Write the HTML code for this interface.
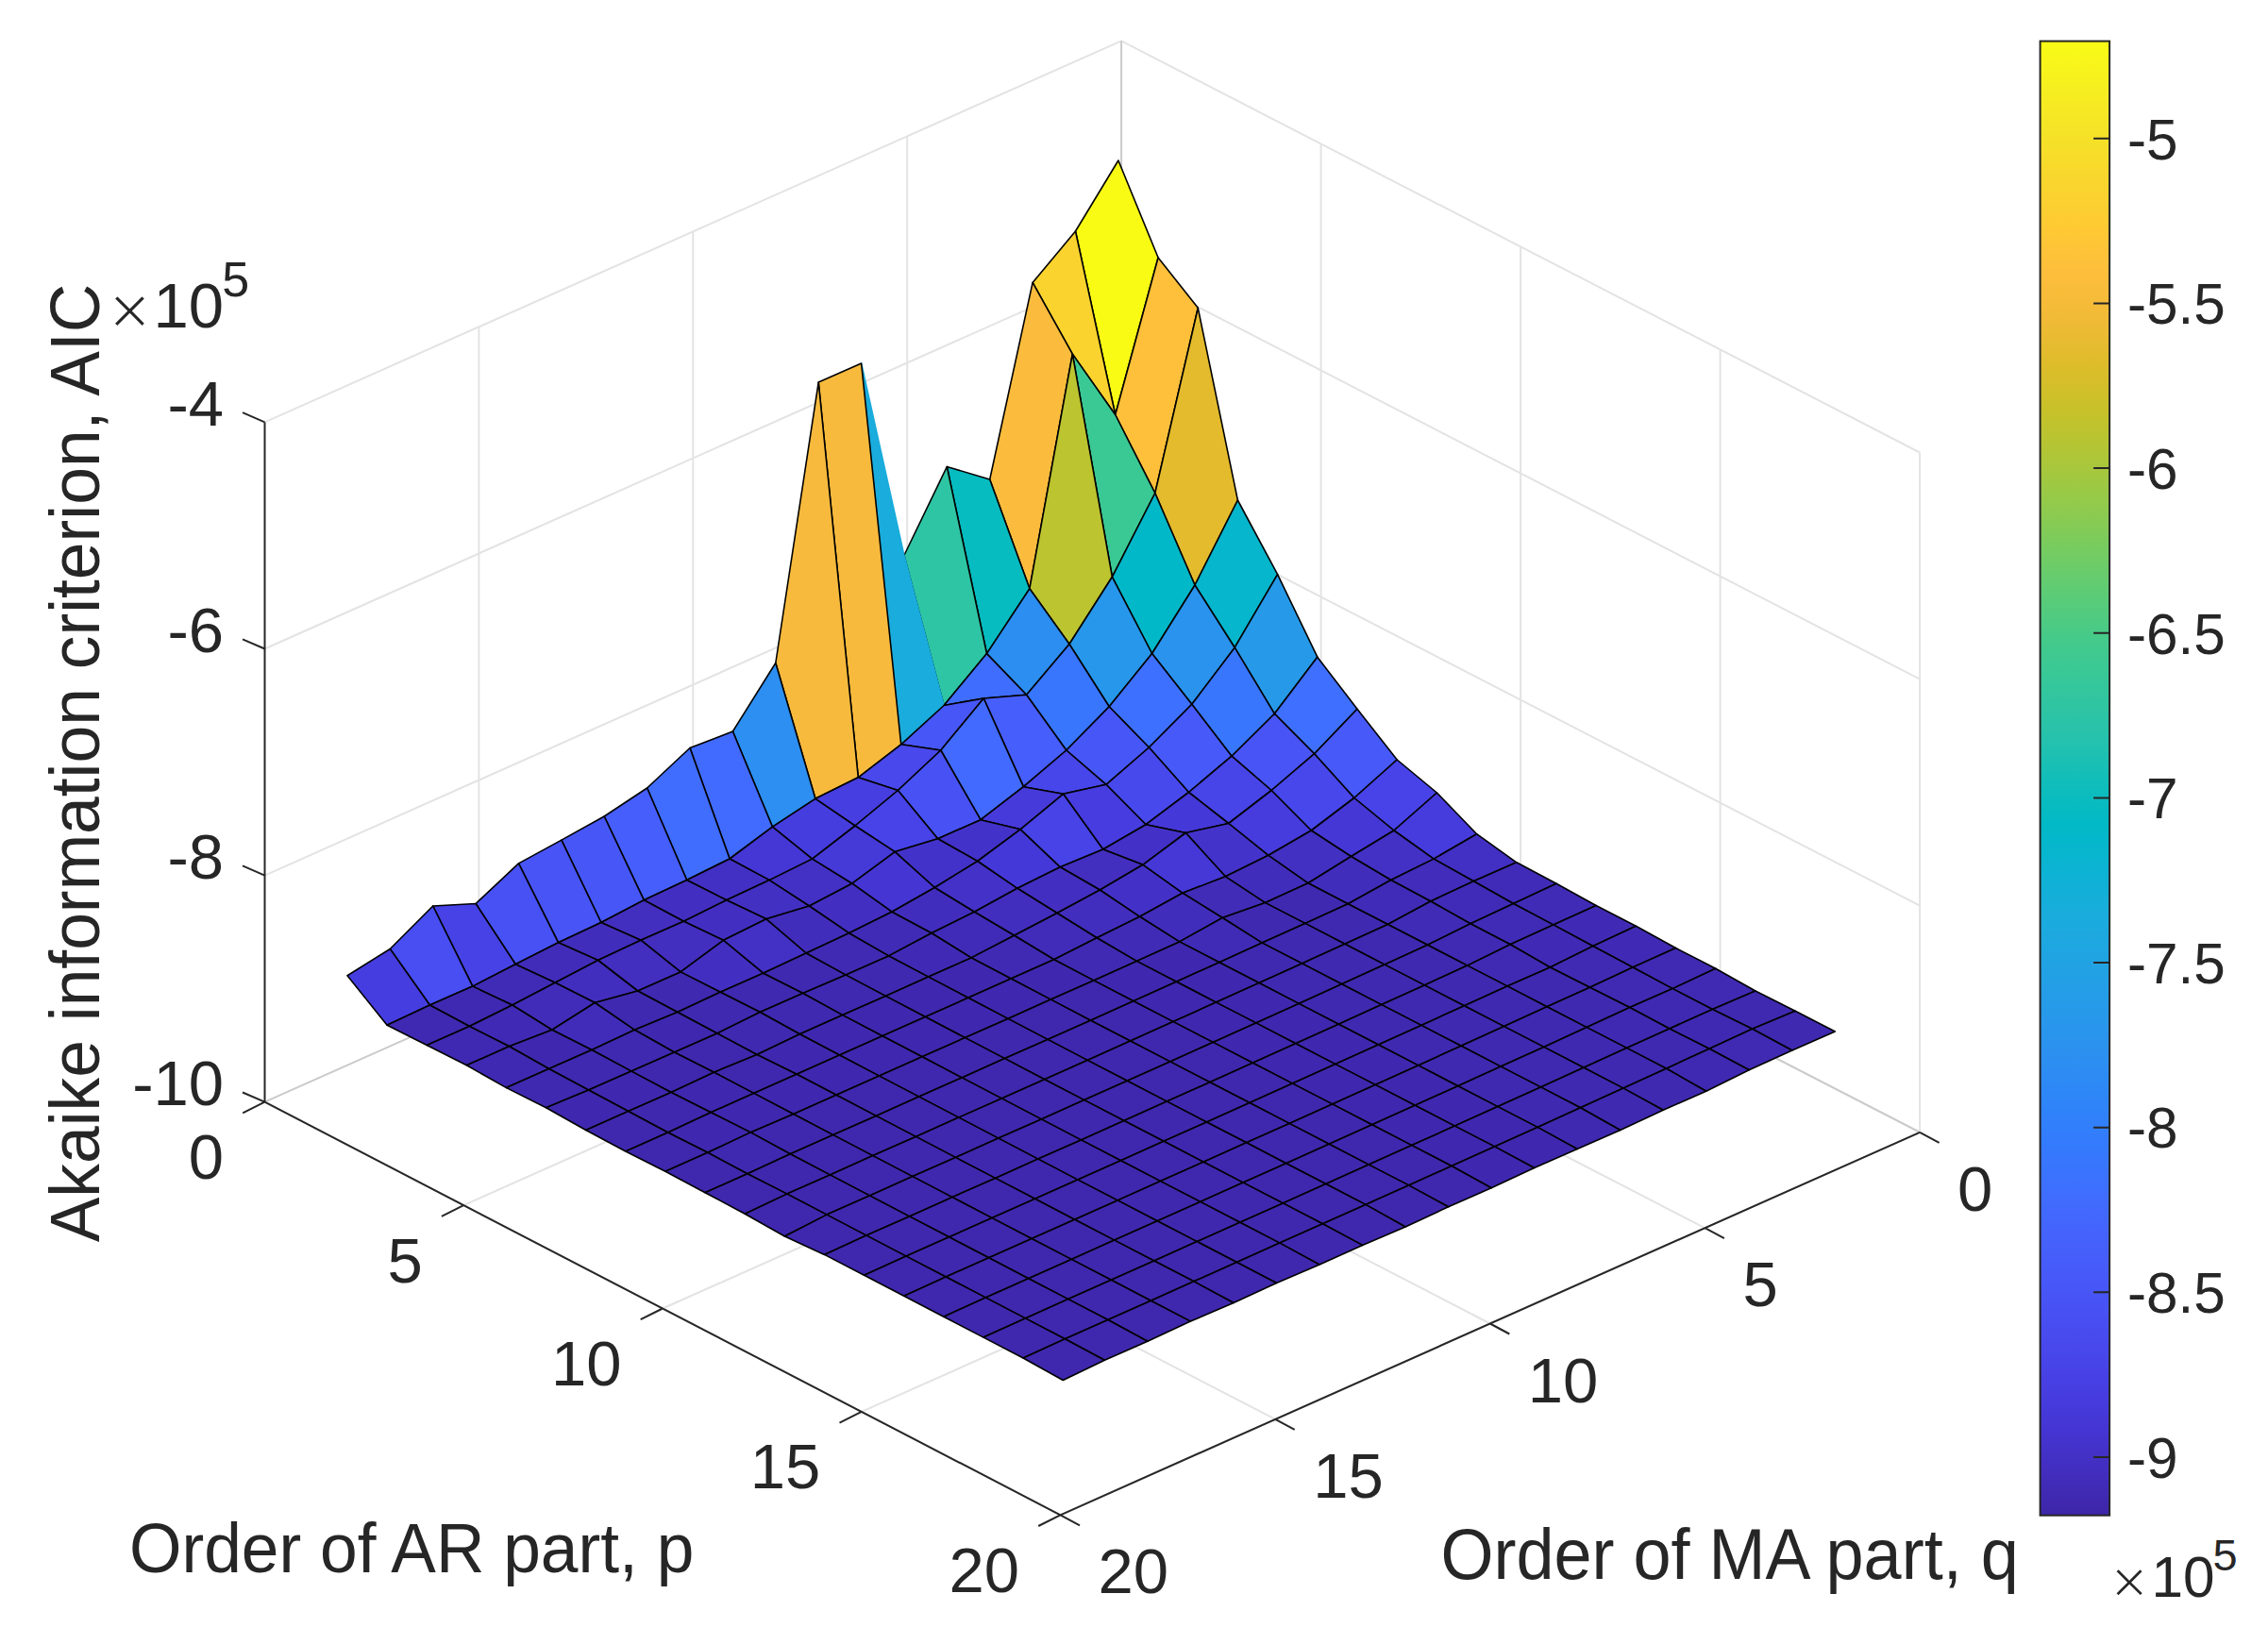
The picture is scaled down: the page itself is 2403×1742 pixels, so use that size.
<!DOCTYPE html>
<html><head><meta charset="utf-8"><title>AIC surface</title>
<style>html,body{margin:0;padding:0;background:#fff}svg{display:block}</style></head>
<body>
<svg width="2403" height="1742" viewBox="0 0 2403 1742">
<rect width="2403" height="1742" fill="#fff"/>
<g stroke="#262626" stroke-opacity="0.13" stroke-width="2" fill="none">
<path d="M1188.1 763.6L280.5 1167.7M1188.1 763.6L2034.1 1199.8M1399.6 872.7L491.2 1277.1M961.2 864.6L1806.4 1301.2M1611.1 981.7L702 1386.5M734.3 965.7L1578.8 1402.5M1822.6 1090.8L912.8 1495.9M507.4 1066.7L1351.2 1503.9M2034.1 1199.8L1123.5 1605.3M280.5 1167.7L1123.5 1605.3"/>
<path d="M1188.1 763.6L1188.1 43.3M961.2 864.6L961.2 144.3M734.3 965.7L734.3 245.4M507.4 1066.7L507.4 346.4M1188.1 763.6L280.5 1167.7M1188.1 523.5L280.5 927.6M1188.1 283.4L280.5 687.5M1188.1 43.3L280.5 447.4"/>
<path d="M1188.1 763.6L1188.1 43.3M1399.6 872.7L1399.6 152.4M1611.1 981.7L1611.1 261.4M1822.6 1090.8L1822.6 370.5M2034.1 1199.8L2034.1 479.5M1188.1 763.6L2034.1 1199.8M1188.1 523.5L2034.1 959.7M1188.1 283.4L2034.1 719.6M1188.1 43.3L2034.1 479.5"/>
</g>
<g stroke="#000" stroke-width="1.6" stroke-linejoin="round">
<path fill="#f9fb15" d="M1184.9 170L1227.1 273L1181.7 439.5L1139.5 245Z"/>
<path fill="#fbd32e" d="M1139.5 245L1181.7 439.5L1136.3 375.1L1094.1 299.4Z"/>
<path fill="#fec03a" d="M1227.1 273L1269.3 326.3L1223.8 522.5L1181.7 439.5Z"/>
<path fill="#fbbc3d" d="M1094.1 299.4L1136.3 375.1L1090.9 623.7L1048.7 508Z"/>
<path fill="#3ac994" d="M1181.7 439.5L1223.8 522.5L1178.4 611.3L1136.3 375.1Z"/>
<path fill="#e4bb2c" d="M1269.3 326.3L1311.4 530L1266 620L1223.8 522.5Z"/>
<path fill="#06bcc0" d="M1048.7 508L1090.9 623.7L1045.5 692.6L1003.3 494.5Z"/>
<path fill="#bcc42f" d="M1136.3 375.1L1178.4 611.3L1133 682.5L1090.9 623.7Z"/>
<path fill="#01b8c9" d="M1223.8 522.5L1266 620L1220.6 692.5L1178.4 611.3Z"/>
<path fill="#05b6cd" d="M1311.4 530L1353.6 608.7L1308.2 686.2L1266 620Z"/>
<path fill="#2ec5a4" d="M1003.3 494.5L1045.5 692.6L1000.1 747.5L957.9 588.5Z"/>
<path fill="#2c8ef1" d="M1090.9 623.7L1133 682.5L1087.6 736.2L1045.5 692.6Z"/>
<path fill="#2797eb" d="M1178.4 611.3L1220.6 692.5L1175.2 748.8L1133 682.5Z"/>
<path fill="#2a93ee" d="M1266 620L1308.2 686.2L1262.8 746.3L1220.6 692.5Z"/>
<path fill="#269ae8" d="M1353.6 608.7L1395.8 696.2L1350.4 756.3L1308.2 686.2Z"/>
<path fill="#19acdc" stroke="#19acdc" d="M957.9 588.5L1000.1 747.5L954.7 788.8L912.6 385Z"/>
<path fill="#3f6dfe" d="M1045.5 692.6L1087.6 736.2L1042.2 740L1000.1 747.5Z"/>
<path fill="#3876fe" d="M1133 682.5L1175.2 748.8L1129.8 795L1087.6 736.2Z"/>
<path fill="#3e70ff" d="M1220.6 692.5L1262.8 746.3L1217.4 792L1175.2 748.8Z"/>
<path fill="#3876fe" d="M1308.2 686.2L1350.4 756.3L1305 801.2L1262.8 746.3Z"/>
<path fill="#3e6fff" d="M1395.8 696.2L1438 751.3L1392.6 798.7L1350.4 756.3Z"/>
<path fill="#f8ba3d" d="M912.6 385L954.7 788.8L909.3 823.8L867.2 405.1Z"/>
<path fill="#4756f7" d="M1000.1 747.5L1042.2 740L996.8 795L954.7 788.8Z"/>
<path fill="#465efb" d="M1087.6 736.2L1129.8 795L1084.4 833.7L1042.2 740Z"/>
<path fill="#4757f7" d="M1175.2 748.8L1217.4 792L1172 831.3L1129.8 795Z"/>
<path fill="#475af9" d="M1262.8 746.3L1305 801.2L1259.5 839.5L1217.4 792Z"/>
<path fill="#4854f6" d="M1350.4 756.3L1392.6 798.7L1347.1 837.5L1305 801.2Z"/>
<path fill="#4759f8" d="M1438 751.3L1480.2 805L1434.8 845.5L1392.6 798.7Z"/>
<path fill="#f8ba3d" d="M867.2 405.1L909.3 823.8L863.9 846.3L821.8 702.5Z"/>
<path fill="#4848ec" d="M954.7 788.8L996.8 795L951.4 837.5L909.3 823.8Z"/>
<path fill="#426afe" d="M1042.2 740L1084.4 833.7L1039 868.7L996.8 795Z"/>
<path fill="#4746ea" d="M1129.8 795L1172 831.3L1126.5 841.3L1084.4 833.7Z"/>
<path fill="#4849ed" d="M1217.4 792L1259.5 839.5L1214.1 873.7L1172 831.3Z"/>
<path fill="#4744e8" d="M1305 801.2L1347.1 837.5L1301.7 872.5L1259.5 839.5Z"/>
<path fill="#4747eb" d="M1392.6 798.7L1434.8 845.5L1389.3 880L1347.1 837.5Z"/>
<path fill="#4743e8" d="M1480.2 805L1522.4 840L1476.9 880L1434.8 845.5Z"/>
<path fill="#2c8ff1" d="M821.8 702.5L863.9 846.3L818.5 876.2L776.4 775Z"/>
<path fill="#473ee1" d="M909.3 823.8L951.4 837.5L906 875L863.9 846.3Z"/>
<path fill="#4852f4" d="M996.8 795L1039 868.7L993.6 888.7L951.4 837.5Z"/>
<path fill="#463adb" d="M1084.4 833.7L1126.5 841.3L1081.1 878.8L1039 868.7Z"/>
<path fill="#463cdf" d="M1172 831.3L1214.1 873.7L1168.7 900L1126.5 841.3Z"/>
<path fill="#4538d8" d="M1259.5 839.5L1301.7 872.5L1256.3 882.5L1214.1 873.7Z"/>
<path fill="#463bdc" d="M1347.1 837.5L1389.3 880L1343.9 906.3L1301.7 872.5Z"/>
<path fill="#4537d5" d="M1434.8 845.5L1476.9 880L1431.5 907.5L1389.3 880Z"/>
<path fill="#463bdd" d="M1522.4 840L1564.6 883.7L1519.1 910.1L1476.9 880Z"/>
<path fill="#416bfe" d="M776.4 775L818.5 876.2L773.1 910L731 792.5Z"/>
<path fill="#463ddf" d="M863.9 846.3L906 875L860.6 910.1L818.5 876.2Z"/>
<path fill="#4743e8" d="M951.4 837.5L993.6 888.7L948.2 902.6L906 875Z"/>
<path fill="#4332ca" d="M1039 868.7L1081.1 878.8L1035.7 912.5L993.6 888.7Z"/>
<path fill="#4743e7" d="M1126.5 841.3L1168.7 900L1123.3 918.8L1081.1 878.8Z"/>
<path fill="#4331c7" d="M1214.1 873.7L1256.3 882.5L1210.9 916.3L1168.7 900Z"/>
<path fill="#4433cb" d="M1301.7 872.5L1343.9 906.3L1298.4 928.8L1256.3 882.5Z"/>
<path fill="#4230c3" d="M1389.3 880L1431.5 907.5L1386 935.8L1343.9 906.3Z"/>
<path fill="#4331c5" d="M1476.9 880L1519.1 910.1L1473.7 932.5L1431.5 907.5Z"/>
<path fill="#422fc3" d="M1564.6 883.7L1606.8 913.8L1561.3 933.8L1519.1 910.1Z"/>
<path fill="#406dfe" d="M731 792.5L773.1 910L727.7 932.5L685.6 835Z"/>
<path fill="#4537d5" d="M818.5 876.2L860.6 910.1L815.2 932.6L773.1 910Z"/>
<path fill="#4539d8" d="M906 875L948.2 902.6L902.8 936.2L860.6 910.1Z"/>
<path fill="#4332ca" d="M993.6 888.7L1035.7 912.5L990.3 940.5L948.2 902.6Z"/>
<path fill="#4538d8" d="M1081.1 878.8L1123.3 918.8L1077.9 941.3L1035.7 912.5Z"/>
<path fill="#422ebf" d="M1168.7 900L1210.9 916.3L1165.4 943L1123.3 918.8Z"/>
<path fill="#4538d7" d="M1256.3 882.5L1298.4 928.8L1253 946.3L1210.9 916.3Z"/>
<path fill="#412dbb" d="M1343.9 906.3L1386 935.8L1340.6 956.6L1298.4 928.8Z"/>
<path fill="#412dbc" d="M1431.5 907.5L1473.7 932.5L1428.2 957.7L1386 935.8Z"/>
<path fill="#412cbb" d="M1519.1 910.1L1561.3 933.8L1515.8 955L1473.7 932.5Z"/>
<path fill="#402bb8" d="M1606.8 913.8L1649 936.2L1603.5 957.5L1561.3 933.8Z"/>
<path fill="#465efb" d="M685.6 835L727.7 932.5L682.3 953.8L640.2 865Z"/>
<path fill="#4230c4" d="M773.1 910L815.2 932.6L769.8 953.7L727.7 932.5Z"/>
<path fill="#4331c6" d="M860.6 910.1L902.8 936.2L857.4 960L815.2 932.6Z"/>
<path fill="#4535d2" d="M948.2 902.6L990.3 940.5L944.9 966.2L902.8 936.2Z"/>
<path fill="#4331c8" d="M1035.7 912.5L1077.9 941.3L1032.4 966.3L990.3 940.5Z"/>
<path fill="#422fc1" d="M1123.3 918.8L1165.4 943L1120 967.5L1077.9 941.3Z"/>
<path fill="#4331c7" d="M1210.9 916.3L1253 946.3L1207.6 971.3L1165.4 943Z"/>
<path fill="#412cb8" d="M1298.4 928.8L1340.6 956.6L1295.2 972.5L1253 946.3Z"/>
<path fill="#3f29b1" d="M1386 935.8L1428.2 957.7L1382.8 978.4L1340.6 956.6Z"/>
<path fill="#402bb8" d="M1473.7 932.5L1515.8 955L1470.4 979.5L1428.2 957.7Z"/>
<path fill="#402bb8" d="M1561.3 933.8L1603.5 957.5L1558 978.7L1515.8 955Z"/>
<path fill="#402bb7" d="M1649 936.2L1691.1 959.5L1645.7 979.9L1603.5 957.5Z"/>
<path fill="#4757f7" d="M640.2 865L682.3 953.8L636.9 977.5L594.9 890.1Z"/>
<path fill="#422fc1" d="M727.7 932.5L769.8 953.7L724.4 976.2L682.3 953.8Z"/>
<path fill="#4230c3" d="M815.2 932.6L857.4 960L811.9 973.8L769.8 953.7Z"/>
<path fill="#422fc1" d="M902.8 936.2L944.9 966.2L899.5 988.7L857.4 960Z"/>
<path fill="#412dbd" d="M990.3 940.5L1032.4 966.3L987 988.8L944.9 966.2Z"/>
<path fill="#422ebe" d="M1077.9 941.3L1120 967.5L1074.6 991.3L1032.4 966.3Z"/>
<path fill="#422ebe" d="M1165.4 943L1207.6 971.3L1162.1 993.7L1120 967.5Z"/>
<path fill="#412dbc" d="M1253 946.3L1295.2 972.5L1249.7 997.9L1207.6 971.3Z"/>
<path fill="#3f29b0" d="M1340.6 956.6L1382.8 978.4L1337.3 999.1L1295.2 972.5Z"/>
<path fill="#3f29b1" d="M1428.2 957.7L1470.4 979.5L1424.9 1000.3L1382.8 978.4Z"/>
<path fill="#402bb7" d="M1515.8 955L1558 978.7L1512.5 1001.3L1470.4 979.5Z"/>
<path fill="#402bb6" d="M1603.5 957.5L1645.7 979.9L1600.2 1000.8L1558 978.7Z"/>
<path fill="#402ab5" d="M1691.1 959.5L1733.3 981.3L1687.8 1002.5L1645.7 979.9Z"/>
<path fill="#4854f5" d="M594.9 890.1L636.9 977.5L591.6 998.8L549.5 914.9Z"/>
<path fill="#422fc0" d="M682.3 953.8L724.4 976.2L679 996.2L636.9 977.5Z"/>
<path fill="#422fc2" d="M769.8 953.7L811.9 973.8L766.5 996.3L724.4 976.2Z"/>
<path fill="#412dbc" d="M857.4 960L899.5 988.7L854.1 1010L811.9 973.8Z"/>
<path fill="#402bb6" d="M944.9 966.2L987 988.8L941.6 1012.9L899.5 988.7Z"/>
<path fill="#402bb8" d="M1032.4 966.3L1074.6 991.3L1029.1 1014.9L987 988.8Z"/>
<path fill="#412cb9" d="M1120 967.5L1162.1 993.7L1116.7 1016.8L1074.6 991.3Z"/>
<path fill="#402bb6" d="M1207.6 971.3L1249.7 997.9L1204.3 1018.4L1162.1 993.7Z"/>
<path fill="#402bb6" d="M1295.2 972.5L1337.3 999.1L1291.9 1019.7L1249.7 997.9Z"/>
<path fill="#3f29b0" d="M1382.8 978.4L1424.9 1000.3L1379.5 1020.9L1337.3 999.1Z"/>
<path fill="#3f29b1" d="M1470.4 979.5L1512.5 1001.3L1467.1 1022.1L1424.9 1000.3Z"/>
<path fill="#402ab4" d="M1558 978.7L1600.2 1000.8L1554.7 1023.1L1512.5 1001.3Z"/>
<path fill="#402ab5" d="M1645.7 979.9L1687.8 1002.5L1642.4 1025L1600.2 1000.8Z"/>
<path fill="#402ab5" d="M1733.3 981.3L1775.5 1004.5L1730 1025L1687.8 1002.5Z"/>
<path fill="#4851f3" d="M549.5 914.9L591.6 998.8L546.2 1021.7L504.1 957.5Z"/>
<path fill="#412dbb" d="M636.9 977.5L679 996.2L633.6 1017.5L591.6 998.8Z"/>
<path fill="#422ebf" d="M724.4 976.2L766.5 996.3L721.1 1029.9L679 996.2Z"/>
<path fill="#4330c5" d="M811.9 973.8L854.1 1010L808.6 1031.2L766.5 996.3Z"/>
<path fill="#402ab3" d="M899.5 988.7L941.6 1012.9L896.2 1033.1L854.1 1010Z"/>
<path fill="#402ab5" d="M987 988.8L1029.1 1014.9L983.7 1035.1L941.6 1012.9Z"/>
<path fill="#402ab4" d="M1074.6 991.3L1116.7 1016.8L1071.2 1037L1029.1 1014.9Z"/>
<path fill="#402ab3" d="M1162.1 993.7L1204.3 1018.4L1158.8 1038.9L1116.7 1016.8Z"/>
<path fill="#3f28af" d="M1249.7 997.9L1291.9 1019.7L1246.4 1040.2L1204.3 1018.4Z"/>
<path fill="#3f29b0" d="M1337.3 999.1L1379.5 1020.9L1334 1041.5L1291.9 1019.7Z"/>
<path fill="#3f29b0" d="M1424.9 1000.3L1467.1 1022.1L1421.6 1042.8L1379.5 1020.9Z"/>
<path fill="#3f29b1" d="M1512.5 1001.3L1554.7 1023.1L1509.2 1043.9L1467.1 1022.1Z"/>
<path fill="#402ab4" d="M1600.2 1000.8L1642.4 1025L1596.9 1044.9L1554.7 1023.1Z"/>
<path fill="#402ab4" d="M1687.8 1002.5L1730 1025L1684.5 1046.2L1642.4 1025Z"/>
<path fill="#402ab3" d="M1775.5 1004.5L1817.7 1026.2L1772.2 1047.6L1730 1025Z"/>
<path fill="#4742e6" d="M504.1 957.5L546.2 1021.7L500.8 1045.1L458.7 960Z"/>
<path fill="#412cba" d="M591.6 998.8L633.6 1017.5L588.2 1041.2L546.2 1021.7Z"/>
<path fill="#422ebf" d="M679 996.2L721.1 1029.9L675.7 1050L633.6 1017.5Z"/>
<path fill="#422fc2" d="M766.5 996.3L808.6 1031.2L763.2 1051.2L721.1 1029.9Z"/>
<path fill="#3f29b1" d="M854.1 1010L896.2 1033.1L850.7 1052.5L808.6 1031.2Z"/>
<path fill="#3f29b0" d="M941.6 1012.9L983.7 1035.1L938.3 1055.4L896.2 1033.1Z"/>
<path fill="#3f28af" d="M1029.1 1014.9L1071.2 1037L1025.8 1057.3L983.7 1035.1Z"/>
<path fill="#3f28af" d="M1116.7 1016.8L1158.8 1038.9L1113.4 1059.1L1071.2 1037Z"/>
<path fill="#3f28af" d="M1204.3 1018.4L1246.4 1040.2L1200.9 1060.7L1158.8 1038.9Z"/>
<path fill="#3f28af" d="M1291.9 1019.7L1334 1041.5L1288.5 1062.1L1246.4 1040.2Z"/>
<path fill="#3f29b0" d="M1379.5 1020.9L1421.6 1042.8L1376.1 1063.4L1334 1041.5Z"/>
<path fill="#3f29b0" d="M1467.1 1022.1L1509.2 1043.9L1463.8 1064.6L1421.6 1042.8Z"/>
<path fill="#3f29b1" d="M1554.7 1023.1L1596.9 1044.9L1551.4 1065.7L1509.2 1043.9Z"/>
<path fill="#3f29b1" d="M1642.4 1025L1684.5 1046.2L1639 1066.8L1596.9 1044.9Z"/>
<path fill="#402ab3" d="M1730 1025L1772.2 1047.6L1726.7 1067.5L1684.5 1046.2Z"/>
<path fill="#402ab3" d="M1817.7 1026.2L1859.9 1050L1814.4 1069.5L1772.2 1047.6Z"/>
<path fill="#484ef1" d="M458.7 960L500.8 1045.1L455.4 1065L413.3 1005.5Z"/>
<path fill="#402bb6" d="M546.2 1021.7L588.2 1041.2L542.8 1065L500.8 1045.1Z"/>
<path fill="#412ebe" d="M633.6 1017.5L675.7 1050L630.3 1062.5L588.2 1041.2Z"/>
<path fill="#3f29b0" d="M721.1 1029.9L763.2 1051.2L717.8 1072.5L675.7 1050Z"/>
<path fill="#3f29b0" d="M808.6 1031.2L850.7 1052.5L805.3 1072.5L763.2 1051.2Z"/>
<path fill="#3f29b0" d="M896.2 1033.1L938.3 1055.4L892.8 1075.6L850.7 1052.5Z"/>
<path fill="#3f28af" d="M983.7 1035.1L1025.8 1057.3L980.4 1077.5L938.3 1055.4Z"/>
<path fill="#3f28af" d="M1071.2 1037L1113.4 1059.1L1067.9 1079.4L1025.8 1057.3Z"/>
<path fill="#3f28ae" d="M1158.8 1038.9L1200.9 1060.7L1155.5 1081.2L1113.4 1059.1Z"/>
<path fill="#3f28af" d="M1246.4 1040.2L1288.5 1062.1L1243.1 1082.6L1200.9 1060.7Z"/>
<path fill="#3f28af" d="M1334 1041.5L1376.1 1063.4L1330.7 1083.9L1288.5 1062.1Z"/>
<path fill="#3f29b0" d="M1421.6 1042.8L1463.8 1064.6L1418.3 1085.2L1376.1 1063.4Z"/>
<path fill="#3f29b0" d="M1509.2 1043.9L1551.4 1065.7L1505.9 1086.4L1463.8 1064.6Z"/>
<path fill="#3f29b1" d="M1596.9 1044.9L1639 1066.8L1593.6 1087.6L1551.4 1065.7Z"/>
<path fill="#3f29b1" d="M1684.5 1046.2L1726.7 1067.5L1681.2 1088.6L1639 1066.8Z"/>
<path fill="#3f29b2" d="M1772.2 1047.6L1814.4 1069.5L1768.9 1090L1726.7 1067.5Z"/>
<path fill="#3f29b1" d="M1859.9 1050L1902.1 1071.3L1856.6 1090.3L1814.4 1069.5Z"/>
<path fill="#463de0" d="M413.3 1005.5L455.4 1065L410.1 1086.2L368 1033.7Z"/>
<path fill="#3f29b2" d="M500.8 1045.1L542.8 1065L497.4 1087.5L455.4 1065Z"/>
<path fill="#412cba" d="M588.2 1041.2L630.3 1062.5L584.9 1091.2L542.8 1065Z"/>
<path fill="#3f29b0" d="M675.7 1050L717.8 1072.5L672.4 1091.3L630.3 1062.5Z"/>
<path fill="#3f29b0" d="M763.2 1051.2L805.3 1072.5L759.9 1095L717.8 1072.5Z"/>
<path fill="#3f29b1" d="M850.7 1052.5L892.8 1075.6L847.4 1095.8L805.3 1072.5Z"/>
<path fill="#3f28af" d="M938.3 1055.4L980.4 1077.5L934.9 1097.7L892.8 1075.6Z"/>
<path fill="#3f28af" d="M1025.8 1057.3L1067.9 1079.4L1022.5 1099.6L980.4 1077.5Z"/>
<path fill="#3f28ae" d="M1113.4 1059.1L1155.5 1081.2L1110 1101.4L1067.9 1079.4Z"/>
<path fill="#3f28ae" d="M1200.9 1060.7L1243.1 1082.6L1197.6 1103L1155.5 1081.2Z"/>
<path fill="#3f28af" d="M1288.5 1062.1L1330.7 1083.9L1285.2 1104.4L1243.1 1082.6Z"/>
<path fill="#3f28af" d="M1376.1 1063.4L1418.3 1085.2L1372.8 1105.8L1330.7 1083.9Z"/>
<path fill="#3f29b0" d="M1463.8 1064.6L1505.9 1086.4L1460.4 1107L1418.3 1085.2Z"/>
<path fill="#3f29b0" d="M1551.4 1065.7L1593.6 1087.6L1548.1 1108.3L1505.9 1086.4Z"/>
<path fill="#3f29b1" d="M1639 1066.8L1681.2 1088.6L1635.7 1109.4L1593.6 1087.6Z"/>
<path fill="#3f29b2" d="M1726.7 1067.5L1768.9 1090L1723.4 1110.4L1681.2 1088.6Z"/>
<path fill="#3f29b2" d="M1814.4 1069.5L1856.6 1090.3L1811.1 1111.2L1768.9 1090Z"/>
<path fill="#3f29b1" d="M1902.1 1071.3L1944.3 1093L1898.8 1113L1856.6 1090.3Z"/>
<path fill="#4029b2" d="M455.4 1065L497.4 1087.5L452.3 1107.5L410.1 1086.2Z"/>
<path fill="#402ab5" d="M542.8 1065L584.9 1091.2L539.5 1108.8L497.4 1087.5Z"/>
<path fill="#412cba" d="M630.3 1062.5L672.4 1091.3L627 1112.5L584.9 1091.2Z"/>
<path fill="#3f28af" d="M717.8 1072.5L759.9 1095L714.5 1115L672.4 1091.3Z"/>
<path fill="#3f29b1" d="M805.3 1072.5L847.4 1095.8L802 1117.5L759.9 1095Z"/>
<path fill="#3f28af" d="M892.8 1075.6L934.9 1097.7L889.5 1118L847.4 1095.8Z"/>
<path fill="#3f28af" d="M980.4 1077.5L1022.5 1099.6L977 1119.8L934.9 1097.7Z"/>
<path fill="#3f28ae" d="M1067.9 1079.4L1110 1101.4L1064.6 1121.6L1022.5 1099.6Z"/>
<path fill="#3f28ae" d="M1155.5 1081.2L1197.6 1103L1152.1 1123.4L1110 1101.4Z"/>
<path fill="#3f28ae" d="M1243.1 1082.6L1285.2 1104.4L1239.7 1124.9L1197.6 1103Z"/>
<path fill="#3f28af" d="M1330.7 1083.9L1372.8 1105.8L1327.3 1126.3L1285.2 1104.4Z"/>
<path fill="#3f28af" d="M1418.3 1085.2L1460.4 1107L1414.9 1127.6L1372.8 1105.8Z"/>
<path fill="#3f29b0" d="M1505.9 1086.4L1548.1 1108.3L1502.6 1128.9L1460.4 1107Z"/>
<path fill="#3f29b0" d="M1593.6 1087.6L1635.7 1109.4L1590.2 1130.1L1548.1 1108.3Z"/>
<path fill="#3f29b1" d="M1681.2 1088.6L1723.4 1110.4L1677.9 1131.2L1635.7 1109.4Z"/>
<path fill="#3f29b1" d="M1768.9 1090L1811.1 1111.2L1765.5 1132.2L1723.4 1110.4Z"/>
<path fill="#402ab3" d="M1856.6 1090.3L1898.8 1113L1853.2 1133.8L1811.1 1111.2Z"/>
<path fill="#3f29b2" d="M497.4 1087.5L539.5 1108.8L494.4 1128.8L452.3 1107.5Z"/>
<path fill="#3f28af" d="M584.9 1091.2L627 1112.5L581.6 1132.5L539.5 1108.8Z"/>
<path fill="#3f29b1" d="M672.4 1091.3L714.5 1115L669 1135.1L627 1112.5Z"/>
<path fill="#3f28ae" d="M759.9 1095L802 1117.5L756.5 1136.2L714.5 1115Z"/>
<path fill="#3f28af" d="M847.4 1095.8L889.5 1118L844.1 1138.2L802 1117.5Z"/>
<path fill="#3f28af" d="M934.9 1097.7L977 1119.8L931.6 1140.1L889.5 1118Z"/>
<path fill="#3f28ae" d="M1022.5 1099.6L1064.6 1121.6L1019.1 1141.9L977 1119.8Z"/>
<path fill="#3f28ae" d="M1110 1101.4L1152.1 1123.4L1106.7 1143.7L1064.6 1121.6Z"/>
<path fill="#3f28ae" d="M1197.6 1103L1239.7 1124.9L1194.3 1145.3L1152.1 1123.4Z"/>
<path fill="#3f28ae" d="M1285.2 1104.4L1327.3 1126.3L1281.9 1146.7L1239.7 1124.9Z"/>
<path fill="#3f28af" d="M1372.8 1105.8L1414.9 1127.6L1369.5 1148.1L1327.3 1126.3Z"/>
<path fill="#3f28af" d="M1460.4 1107L1502.6 1128.9L1457.1 1149.4L1414.9 1127.6Z"/>
<path fill="#3f29b0" d="M1548.1 1108.3L1590.2 1130.1L1544.7 1150.7L1502.6 1128.9Z"/>
<path fill="#3f29b0" d="M1635.7 1109.4L1677.9 1131.2L1632.4 1151.9L1590.2 1130.1Z"/>
<path fill="#3f29b1" d="M1723.4 1110.4L1765.5 1132.2L1720 1153.1L1677.9 1131.2Z"/>
<path fill="#3f29b2" d="M1811.1 1111.2L1853.2 1133.8L1807.7 1156.2L1765.5 1132.2Z"/>
<path fill="#4029b2" d="M539.5 1108.8L581.6 1132.5L536.5 1152.6L494.4 1128.8Z"/>
<path fill="#3f29b0" d="M627 1112.5L669 1135.1L623.6 1155L581.6 1132.5Z"/>
<path fill="#3f28ae" d="M714.5 1115L756.5 1136.2L711.1 1157.5L669 1135.1Z"/>
<path fill="#3f28ad" d="M802 1117.5L844.1 1138.2L798.6 1158.4L756.5 1136.2Z"/>
<path fill="#3f28af" d="M889.5 1118L931.6 1140.1L886.1 1160.3L844.1 1138.2Z"/>
<path fill="#3f28ae" d="M977 1119.8L1019.1 1141.9L973.7 1162.1L931.6 1140.1Z"/>
<path fill="#3f28ae" d="M1064.6 1121.6L1106.7 1143.7L1061.2 1163.9L1019.1 1141.9Z"/>
<path fill="#3f28ae" d="M1152.1 1123.4L1194.3 1145.3L1148.8 1165.6L1106.7 1143.7Z"/>
<path fill="#3f28ae" d="M1239.7 1124.9L1281.9 1146.7L1236.4 1167.1L1194.3 1145.3Z"/>
<path fill="#3f28ae" d="M1327.3 1126.3L1369.5 1148.1L1324 1168.5L1281.9 1146.7Z"/>
<path fill="#3f28af" d="M1414.9 1127.6L1457.1 1149.4L1411.6 1169.9L1369.5 1148.1Z"/>
<path fill="#3f28af" d="M1502.6 1128.9L1544.7 1150.7L1499.2 1171.3L1457.1 1149.4Z"/>
<path fill="#3f29b0" d="M1590.2 1130.1L1632.4 1151.9L1586.9 1172.6L1544.7 1150.7Z"/>
<path fill="#3f29b0" d="M1677.9 1131.2L1720 1153.1L1674.5 1173.8L1632.4 1151.9Z"/>
<path fill="#3f29b1" d="M1765.5 1132.2L1807.7 1156.2L1762.2 1176.2L1720 1153.1Z"/>
<path fill="#3f29b0" d="M581.6 1132.5L623.6 1155L578.6 1173.7L536.5 1152.6Z"/>
<path fill="#3f28af" d="M669 1135.1L711.1 1157.5L665.7 1177.5L623.6 1155Z"/>
<path fill="#3f28af" d="M756.5 1136.2L798.6 1158.4L753.2 1178.8L711.1 1157.5Z"/>
<path fill="#3f28af" d="M844.1 1138.2L886.1 1160.3L840.7 1180.5L798.6 1158.4Z"/>
<path fill="#3f28ae" d="M931.6 1140.1L973.7 1162.1L928.2 1182.4L886.1 1160.3Z"/>
<path fill="#3f28ae" d="M1019.1 1141.9L1061.2 1163.9L1015.8 1184.1L973.7 1162.1Z"/>
<path fill="#3f28ae" d="M1106.7 1143.7L1148.8 1165.6L1103.3 1185.9L1061.2 1163.9Z"/>
<path fill="#3f28ae" d="M1194.3 1145.3L1236.4 1167.1L1190.9 1187.5L1148.8 1165.6Z"/>
<path fill="#3f28ae" d="M1281.9 1146.7L1324 1168.5L1278.5 1189L1236.4 1167.1Z"/>
<path fill="#3f28ae" d="M1369.5 1148.1L1411.6 1169.9L1366.1 1190.4L1324 1168.5Z"/>
<path fill="#3f28af" d="M1457.1 1149.4L1499.2 1171.3L1453.7 1191.8L1411.6 1169.9Z"/>
<path fill="#3f28af" d="M1544.7 1150.7L1586.9 1172.6L1541.4 1193.1L1499.2 1171.3Z"/>
<path fill="#3f29b0" d="M1632.4 1151.9L1674.5 1173.8L1629 1194.4L1586.9 1172.6Z"/>
<path fill="#3f29b0" d="M1720 1153.1L1762.2 1176.2L1716.7 1197.5L1674.5 1173.8Z"/>
<path fill="#3f28af" d="M623.6 1155L665.7 1177.5L620.8 1197.5L578.6 1173.7Z"/>
<path fill="#3f28ae" d="M711.1 1157.5L753.2 1178.8L707.7 1200L665.7 1177.5Z"/>
<path fill="#3f28af" d="M798.6 1158.4L840.7 1180.5L795.2 1199.9L753.2 1178.8Z"/>
<path fill="#3f28ae" d="M886.1 1160.3L928.2 1182.4L882.8 1202.6L840.7 1180.5Z"/>
<path fill="#3f28ae" d="M973.7 1162.1L1015.8 1184.1L970.3 1204.4L928.2 1182.4Z"/>
<path fill="#3f28ae" d="M1061.2 1163.9L1103.3 1185.9L1057.9 1206.1L1015.8 1184.1Z"/>
<path fill="#3f28ae" d="M1148.8 1165.6L1190.9 1187.5L1145.4 1207.9L1103.3 1185.9Z"/>
<path fill="#3f28ae" d="M1236.4 1167.1L1278.5 1189L1233 1209.3L1190.9 1187.5Z"/>
<path fill="#3f28ae" d="M1324 1168.5L1366.1 1190.4L1320.6 1210.8L1278.5 1189Z"/>
<path fill="#3f28ae" d="M1411.6 1169.9L1453.7 1191.8L1408.2 1212.2L1366.1 1190.4Z"/>
<path fill="#3f28af" d="M1499.2 1171.3L1541.4 1193.1L1495.8 1213.6L1453.7 1191.8Z"/>
<path fill="#3f28af" d="M1586.9 1172.6L1629 1194.4L1583.5 1214.9L1541.4 1193.1Z"/>
<path fill="#3f29b0" d="M1674.5 1173.8L1716.7 1197.5L1671.1 1217.5L1629 1194.4Z"/>
<path fill="#3f28ae" d="M665.7 1177.5L707.7 1200L662.9 1220L620.8 1197.5Z"/>
<path fill="#3f28af" d="M753.2 1178.8L795.2 1199.9L749.8 1221.3L707.7 1200Z"/>
<path fill="#3f28ae" d="M840.7 1180.5L882.8 1202.6L837.3 1222.8L795.2 1199.9Z"/>
<path fill="#3f28ae" d="M928.2 1182.4L970.3 1204.4L924.8 1224.6L882.8 1202.6Z"/>
<path fill="#3f28ae" d="M1015.8 1184.1L1057.9 1206.1L1012.4 1226.4L970.3 1204.4Z"/>
<path fill="#3f28ae" d="M1103.3 1185.9L1145.4 1207.9L1099.9 1228.1L1057.9 1206.1Z"/>
<path fill="#3f28ae" d="M1190.9 1187.5L1233 1209.3L1187.5 1229.7L1145.4 1207.9Z"/>
<path fill="#3f28ae" d="M1278.5 1189L1320.6 1210.8L1275.1 1231.2L1233 1209.3Z"/>
<path fill="#3f28ae" d="M1366.1 1190.4L1408.2 1212.2L1362.7 1232.7L1320.6 1210.8Z"/>
<path fill="#3f28ae" d="M1453.7 1191.8L1495.8 1213.6L1450.3 1234.1L1408.2 1212.2Z"/>
<path fill="#3f28af" d="M1541.4 1193.1L1583.5 1214.9L1538 1235.5L1495.8 1213.6Z"/>
<path fill="#3f28af" d="M1629 1194.4L1671.1 1217.5L1625.6 1237.5L1583.5 1214.9Z"/>
<path fill="#3f28ad" d="M707.7 1200L749.8 1221.3L705 1241.3L662.9 1220Z"/>
<path fill="#3f29b0" d="M795.2 1199.9L837.3 1222.8L791.9 1243.7L749.8 1221.3Z"/>
<path fill="#3f28ae" d="M882.8 1202.6L924.8 1224.6L879.4 1244.9L837.3 1222.8Z"/>
<path fill="#3f28ae" d="M970.3 1204.4L1012.4 1226.4L966.9 1246.6L924.8 1224.6Z"/>
<path fill="#3f28ae" d="M1057.9 1206.1L1099.9 1228.1L1054.5 1248.4L1012.4 1226.4Z"/>
<path fill="#3f28ae" d="M1145.4 1207.9L1187.5 1229.7L1142 1250.1L1099.9 1228.1Z"/>
<path fill="#3f28ae" d="M1233 1209.3L1275.1 1231.2L1229.6 1251.6L1187.5 1229.7Z"/>
<path fill="#3f28ae" d="M1320.6 1210.8L1362.7 1232.7L1317.2 1253.1L1275.1 1231.2Z"/>
<path fill="#3f28ae" d="M1408.2 1212.2L1450.3 1234.1L1404.8 1254.5L1362.7 1232.7Z"/>
<path fill="#3f28ae" d="M1495.8 1213.6L1538 1235.5L1492.5 1255.9L1450.3 1234.1Z"/>
<path fill="#3f28af" d="M1583.5 1214.9L1625.6 1237.5L1580.1 1258.8L1538 1235.5Z"/>
<path fill="#3f28ae" d="M749.8 1221.3L791.9 1243.7L747.1 1263.7L705 1241.3Z"/>
<path fill="#3f28ae" d="M837.3 1222.8L879.4 1244.9L833.9 1265.1L791.9 1243.7Z"/>
<path fill="#3f28ae" d="M924.8 1224.6L966.9 1246.6L921.4 1266.9L879.4 1244.9Z"/>
<path fill="#3f28ae" d="M1012.4 1226.4L1054.5 1248.4L1009 1268.6L966.9 1246.6Z"/>
<path fill="#3f28ae" d="M1099.9 1228.1L1142 1250.1L1096.6 1270.3L1054.5 1248.4Z"/>
<path fill="#3f28ae" d="M1187.5 1229.7L1229.6 1251.6L1184.1 1271.9L1142 1250.1Z"/>
<path fill="#3f28ae" d="M1275.1 1231.2L1317.2 1253.1L1271.7 1273.4L1229.6 1251.6Z"/>
<path fill="#3f28ae" d="M1362.7 1232.7L1404.8 1254.5L1359.3 1274.9L1317.2 1253.1Z"/>
<path fill="#3f28ae" d="M1450.3 1234.1L1492.5 1255.9L1446.9 1276.4L1404.8 1254.5Z"/>
<path fill="#3f28ae" d="M1538 1235.5L1580.1 1258.8L1534.6 1278.8L1492.5 1255.9Z"/>
<path fill="#3f28ad" d="M791.9 1243.7L833.9 1265.1L789.3 1286.2L747.1 1263.7Z"/>
<path fill="#3f28ae" d="M879.4 1244.9L921.4 1266.9L876 1287.1L833.9 1265.1Z"/>
<path fill="#3f28ae" d="M966.9 1246.6L1009 1268.6L963.5 1288.9L921.4 1266.9Z"/>
<path fill="#3f28ae" d="M1054.5 1248.4L1096.6 1270.3L1051.1 1290.6L1009 1268.6Z"/>
<path fill="#3f28ad" d="M1142 1250.1L1184.1 1271.9L1138.6 1292.2L1096.6 1270.3Z"/>
<path fill="#3f28ae" d="M1229.6 1251.6L1271.7 1273.4L1226.2 1293.8L1184.1 1271.9Z"/>
<path fill="#3f28ae" d="M1317.2 1253.1L1359.3 1274.9L1313.8 1295.3L1271.7 1273.4Z"/>
<path fill="#3f28ae" d="M1404.8 1254.5L1446.9 1276.4L1401.4 1296.8L1359.3 1274.9Z"/>
<path fill="#3f28ae" d="M1492.5 1255.9L1534.6 1278.8L1489.1 1300L1446.9 1276.4Z"/>
<path fill="#3f28ae" d="M833.9 1265.1L876 1287.1L831.4 1310L789.3 1286.2Z"/>
<path fill="#3f28ae" d="M921.4 1266.9L963.5 1288.9L918 1309.1L876 1287.1Z"/>
<path fill="#3f28ae" d="M1009 1268.6L1051.1 1290.6L1005.6 1310.8L963.5 1288.9Z"/>
<path fill="#3f28ad" d="M1096.6 1270.3L1138.6 1292.2L1093.1 1312.5L1051.1 1290.6Z"/>
<path fill="#3f28ad" d="M1184.1 1271.9L1226.2 1293.8L1180.7 1314.1L1138.6 1292.2Z"/>
<path fill="#3f28ae" d="M1271.7 1273.4L1313.8 1295.3L1268.3 1315.6L1226.2 1293.8Z"/>
<path fill="#3f28ae" d="M1359.3 1274.9L1401.4 1296.8L1355.9 1317.1L1313.8 1295.3Z"/>
<path fill="#3f28ae" d="M1446.9 1276.4L1489.1 1300L1443.5 1319.4L1401.4 1296.8Z"/>
<path fill="#3f28ae" d="M876 1287.1L918 1309.1L873.5 1329.4L831.4 1310Z"/>
<path fill="#3f28ae" d="M963.5 1288.9L1005.6 1310.8L960.1 1331.1L918 1309.1Z"/>
<path fill="#3f28ad" d="M1051.1 1290.6L1093.1 1312.5L1047.7 1332.8L1005.6 1310.8Z"/>
<path fill="#3f28ad" d="M1138.6 1292.2L1180.7 1314.1L1135.2 1334.4L1093.1 1312.5Z"/>
<path fill="#3f28ad" d="M1226.2 1293.8L1268.3 1315.6L1222.8 1336L1180.7 1314.1Z"/>
<path fill="#3f28ae" d="M1313.8 1295.3L1355.9 1317.1L1310.4 1337.5L1268.3 1315.6Z"/>
<path fill="#3f28ae" d="M1401.4 1296.8L1443.5 1319.4L1398 1340L1355.9 1317.1Z"/>
<path fill="#3f28ae" d="M918 1309.1L960.1 1331.1L915.6 1351.3L873.5 1329.4Z"/>
<path fill="#3f28ad" d="M1005.6 1310.8L1047.7 1332.8L1002.2 1353L960.1 1331.1Z"/>
<path fill="#3f28ad" d="M1093.1 1312.5L1135.2 1334.4L1089.7 1354.7L1047.7 1332.8Z"/>
<path fill="#3f28ad" d="M1180.7 1314.1L1222.8 1336L1177.3 1356.3L1135.2 1334.4Z"/>
<path fill="#3f28ad" d="M1268.3 1315.6L1310.4 1337.5L1264.9 1357.8L1222.8 1336Z"/>
<path fill="#3f28ae" d="M1355.9 1317.1L1398 1340L1352.5 1359.5L1310.4 1337.5Z"/>
<path fill="#3f28ad" d="M960.1 1331.1L1002.2 1353L957.8 1373.3L915.6 1351.3Z"/>
<path fill="#3f28ad" d="M1047.7 1332.8L1089.7 1354.7L1044.2 1374.9L1002.2 1353Z"/>
<path fill="#3f28ad" d="M1135.2 1334.4L1177.3 1356.3L1131.8 1376.6L1089.7 1354.7Z"/>
<path fill="#3f28ad" d="M1222.8 1336L1264.9 1357.8L1219.4 1378.2L1177.3 1356.3Z"/>
<path fill="#3f28ad" d="M1310.4 1337.5L1352.5 1359.5L1307 1380.5L1264.9 1357.8Z"/>
<path fill="#3f28ad" d="M1002.2 1353L1044.2 1374.9L999.9 1395.2L957.8 1373.3Z"/>
<path fill="#3f28ad" d="M1089.7 1354.7L1131.8 1376.6L1086.3 1396.9L1044.2 1374.9Z"/>
<path fill="#3f28ad" d="M1177.3 1356.3L1219.4 1378.2L1173.9 1398.5L1131.8 1376.6Z"/>
<path fill="#3f28ad" d="M1264.9 1357.8L1307 1380.5L1261.4 1400.1L1219.4 1378.2Z"/>
<path fill="#3f28ad" d="M1044.2 1374.9L1086.3 1396.9L1042 1417.1L999.9 1395.2Z"/>
<path fill="#3f28ad" d="M1131.8 1376.6L1173.9 1398.5L1128.3 1418.8L1086.3 1396.9Z"/>
<path fill="#3f28ad" d="M1219.4 1378.2L1261.4 1400.1L1215.9 1421.3L1173.9 1398.5Z"/>
<path fill="#3f28ad" d="M1086.3 1396.9L1128.3 1418.8L1084.1 1439L1042 1417.1Z"/>
<path fill="#3f28ad" d="M1173.9 1398.5L1215.9 1421.3L1170.4 1441.2L1128.3 1418.8Z"/>
<path fill="#3f28ad" d="M1128.3 1418.8L1170.4 1441.2L1126.3 1462.5L1084.1 1439Z"/>
</g>
<path d="M280.5 1167.7L280.5 447.4M280.5 1167.7L1123.5 1605.3M1123.5 1605.3L2034.1 1199.8M280.5 1167.7L257.2 1179.4M2034.1 1199.8L2054.6 1210.8M491.2 1277.1L467.9 1288.8M1806.4 1301.2L1826.9 1312.2M702 1386.5L678.7 1398.2M1578.8 1402.5L1599.3 1413.5M912.8 1495.9L889.5 1507.6M1351.2 1503.9L1371.7 1514.9M1123.5 1605.3L1100.2 1617M1123.5 1605.3L1144 1616.3M280.5 1167.7L257 1157.5M280.5 927.6L257 917.4M280.5 687.5L257 677.3M280.5 447.4L257 437.2" stroke="#262626" stroke-width="2" fill="none"/>
<g font-family="Liberation Sans, Arial, Helvetica, sans-serif" fill="#262626">
<text x="237" y="1249.2" font-size="67" text-anchor="end">0</text>
<text x="447.8" y="1358.6" font-size="67" text-anchor="end">5</text>
<text x="658.5" y="1468" font-size="67" text-anchor="end">10</text>
<text x="869.2" y="1577.4" font-size="67" text-anchor="end">15</text>
<text x="1080" y="1686.8" font-size="67" text-anchor="end">20</text>
<text x="2074.1" y="1282.8" font-size="67" text-anchor="start">0</text>
<text x="1846.4" y="1384.2" font-size="67" text-anchor="start">5</text>
<text x="1618.8" y="1485.5" font-size="67" text-anchor="start">10</text>
<text x="1391.2" y="1586.9" font-size="67" text-anchor="start">15</text>
<text x="1163.5" y="1688.3" font-size="67" text-anchor="start">20</text>
<text x="237" y="1171" font-size="67" text-anchor="end">-10</text>
<text x="237" y="930.9" font-size="67" text-anchor="end">-8</text>
<text x="237" y="690.8" font-size="67" text-anchor="end">-6</text>
<text x="237" y="450.7" font-size="67" text-anchor="end">-4</text>
<text transform="translate(137 1665.8) scale(1 1.05)" font-size="71.3">Order of AR part, p</text>
<text transform="translate(1526.5 1672.7) scale(1 1.05)" font-size="72">Order of MA part, q</text>
<text transform="translate(105.2 808.5) rotate(-90) scale(1 1.05)" font-size="71.4" text-anchor="middle">Akaike information criterion, AIC</text>
<text x="115.2" y="355" font-size="76" text-anchor="start" stroke="#fff" stroke-width="2.2">×</text>
<text x="162.5" y="346.8" font-size="67" text-anchor="start">10</text>
<text x="235.3" y="314" font-size="52" text-anchor="start">5</text>
<text x="2236.6" y="1698.5" font-size="67" text-anchor="start" stroke="#fff" stroke-width="2">×</text>
<text x="2279.5" y="1691.5" font-size="60.3" text-anchor="start">10</text>
<text x="2344.5" y="1663.5" font-size="47" text-anchor="start">5</text>
<text x="2254" y="168.5" font-size="60.3" text-anchor="start">-5</text>
<text x="2254" y="343.2" font-size="60.3" text-anchor="start">-5.5</text>
<text x="2254" y="517.8" font-size="60.3" text-anchor="start">-6</text>
<text x="2254" y="692.5" font-size="60.3" text-anchor="start">-6.5</text>
<text x="2254" y="867.1" font-size="60.3" text-anchor="start">-7</text>
<text x="2254" y="1041.8" font-size="60.3" text-anchor="start">-7.5</text>
<text x="2254" y="1216.4" font-size="60.3" text-anchor="start">-8</text>
<text x="2254" y="1391" font-size="60.3" text-anchor="start">-8.5</text>
<text x="2254" y="1565.7" font-size="60.3" text-anchor="start">-9</text>
</g>
<defs><linearGradient id="cb" x1="0" y1="0" x2="0" y2="1"><stop offset="0%" stop-color="#f9fb15"/><stop offset="3.1%" stop-color="#f6ef20"/><stop offset="6.2%" stop-color="#f5e327"/><stop offset="9.4%" stop-color="#f9d62d"/><stop offset="12.5%" stop-color="#feca33"/><stop offset="15.6%" stop-color="#febe3c"/><stop offset="18.8%" stop-color="#f1ba37"/><stop offset="21.9%" stop-color="#debc2a"/><stop offset="25%" stop-color="#c8c129"/><stop offset="28.1%" stop-color="#afc637"/><stop offset="31.2%" stop-color="#94ca4a"/><stop offset="34.4%" stop-color="#77cc60"/><stop offset="37.5%" stop-color="#5ccc76"/><stop offset="40.6%" stop-color="#44ca8a"/><stop offset="43.8%" stop-color="#34c79c"/><stop offset="46.9%" stop-color="#28c2ab"/><stop offset="50%" stop-color="#12beb9"/><stop offset="53.1%" stop-color="#01b9c6"/><stop offset="56.2%" stop-color="#0cb3d3"/><stop offset="59.4%" stop-color="#1aacdd"/><stop offset="62.5%" stop-color="#21a3e3"/><stop offset="65.6%" stop-color="#269ae9"/><stop offset="68.8%" stop-color="#2c90f0"/><stop offset="71.9%" stop-color="#2e85f8"/><stop offset="75%" stop-color="#347afd"/><stop offset="78.1%" stop-color="#3f6efe"/><stop offset="81.2%" stop-color="#4562fc"/><stop offset="84.4%" stop-color="#4757f7"/><stop offset="87.5%" stop-color="#484cef"/><stop offset="90.6%" stop-color="#4741e5"/><stop offset="93.8%" stop-color="#4536d5"/><stop offset="96.9%" stop-color="#422ebf"/><stop offset="100%" stop-color="#3e26a8"/></linearGradient></defs>
<rect x="2161.6" y="43.6" width="73.5" height="1562.1" fill="url(#cb)" stroke="#262626" stroke-width="2"/>
<path d="M2235.1 146.8h-17M2235.1 321.5h-17M2235.1 496.1h-17M2235.1 670.8h-17M2235.1 845.4h-17M2235.1 1020h-17M2235.1 1194.7h-17M2235.1 1369.3h-17M2235.1 1544h-17" stroke="#262626" stroke-width="2" fill="none"/>
</svg>
</body></html>
